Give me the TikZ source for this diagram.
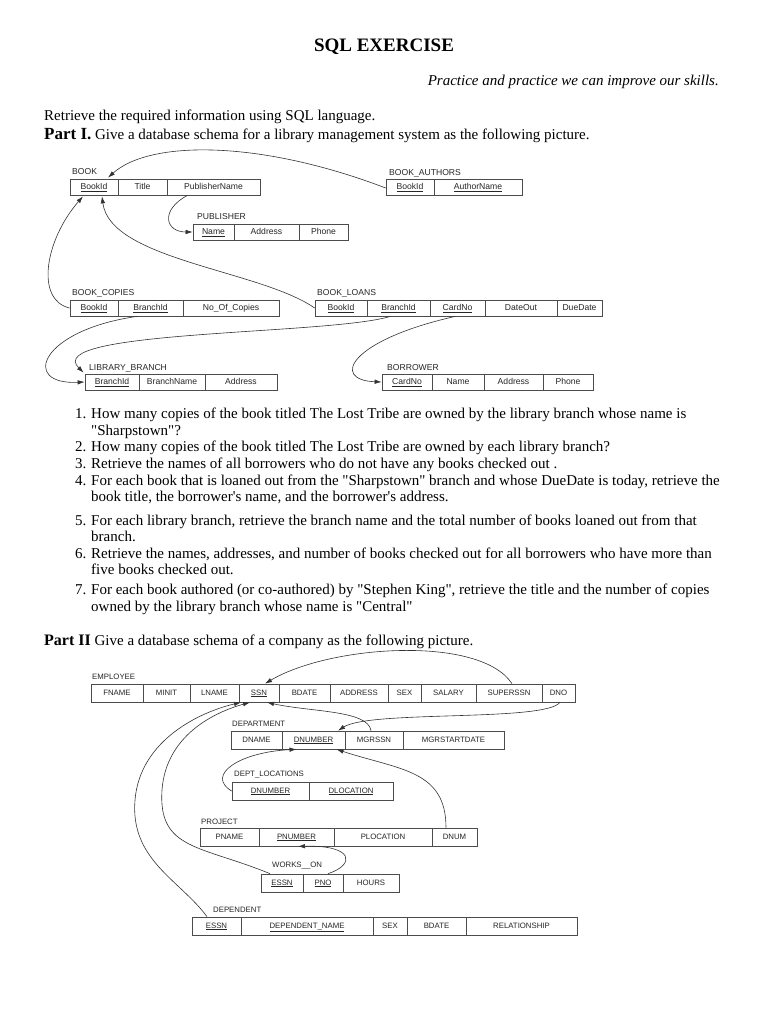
\documentclass[tikz,border=0pt]{standalone}
\usepackage{fontspec}
\setmainfont{Liberation Serif}
\setsansfont{Liberation Sans}
\usetikzlibrary{arrows.meta,calc}
\newcommand\qq{\textquotedbl}
\newcommand\ap{\textquotesingle}
\tikzset{
  body/.style={anchor=base west, inner sep=0pt, font=\fontsize{15}{16}\selectfont},
  cellA/.style={draw=black!70, line width=0.7pt, inner sep=0pt, minimum height=16pt, text height=6.3pt, text depth=1.8pt, font=\sffamily\fontsize{8.6}{9}\selectfont, text=black!85},
  cellB/.style={draw=black!70, line width=0.7pt, inner sep=0pt, minimum height=18pt, text height=5.8pt, text depth=1.8pt, font=\sffamily\fontsize{7.8}{8}\selectfont, text=black!85},
  lblA/.style={anchor=west, inner sep=0pt, font=\sffamily\fontsize{8.6}{9}\selectfont, text=black!85},
  lblB/.style={anchor=west, inner sep=0pt, font=\sffamily\fontsize{7.8}{8}\selectfont, text=black!85},
  conn/.style={draw=black!80, line width=0.6pt, -{Latex[length=7pt,width=4.5pt]}},
}
\begin{document}
\begin{tikzpicture}[x=1pt,y=-1pt]
\useasboundingbox (0,0) rectangle (768,1024);
\fill[white] (0,0) rectangle (768,1024);

% ---------- header text ----------
\node[anchor=base, inner sep=0pt, font=\fontsize{19}{20}\selectfont\bfseries] (title) at (384,52) {SQL EXERCISE};
\node[anchor=base east, inner sep=0pt, font=\fontsize{15}{16}\selectfont\itshape] (motto) at (719,86) {Practice and practice we can improve our skills.};
\node[body] (intro) at (44,121) {Retrieve the required information using SQL language.};
\node[body] (part1) at (44,140) {{\fontsize{17}{18}\selectfont\bfseries Part I.} Give a database schema for a library management system as the following picture.};

% ---------- Part I schema ----------
\node[lblA] (lbook) at (72,172) {BOOK};
\node[cellA, minimum width=48pt] (b-id) at (94,187) {\underline{BookId}};
\node[cellA, minimum width=49pt] (b-title) at (142.5,187) {Title};
\node[cellA, minimum width=93pt] (b-pub) at (213.5,187) {PublisherName};

\node[lblA] (lpub) at (197,217) {PUBLISHER};
\node[cellA, minimum width=41pt] (p-name) at (213.5,232) {\underline{Name}};
\node[cellA, minimum width=65pt] (p-addr) at (266.5,232) {Address};
\node[cellA, minimum width=49pt] (p-phone) at (323.5,232) {Phone};

\node[lblA] (lba) at (389,173) {BOOK\_AUTHORS};
\node[cellA, minimum width=48pt] (ba-id) at (410,187) {\underline{BookId}};
\node[cellA, minimum width=88pt] (ba-auth) at (478,187) {\underline{AuthorName}};

\node[lblA] (lbc) at (72,293) {BOOK\_COPIES};
\node[cellA, minimum width=48pt] (bc-id) at (94,308) {\underline{BookId}};
\node[cellA, minimum width=65pt] (bc-br) at (150.5,308) {\underline{BranchId}};
\node[cellA, minimum width=96pt] (bc-no) at (231,308) {No\_Of\_Copies};

\node[lblA] (lbl) at (317,293) {BOOK\_LOANS};
\node[cellA, minimum width=52pt] (bl-id) at (341,308) {\underline{BookId}};
\node[cellA, minimum width=63pt] (bl-br) at (398.5,308) {\underline{BranchId}};
\node[cellA, minimum width=55pt] (bl-card) at (457.5,308) {\underline{CardNo}};
\node[cellA, minimum width=72pt] (bl-out) at (521,308) {DateOut};
\node[cellA, minimum width=45pt] (bl-due) at (579.5,308) {DueDate};

\node[lblA] (llb) at (89,368) {LIBRARY\_BRANCH};
\node[cellA, minimum width=54pt] (lb-id) at (112,382) {\underline{BranchId}};
\node[cellA, minimum width=66pt] (lb-name) at (172,382) {BranchName};
\node[cellA, minimum width=72pt] (lb-addr) at (241,382) {Address};

\node[lblA] (lbo) at (387,368) {BORROWER};
\node[cellA, minimum width=50pt] (bo-card) at (407,382) {\underline{CardNo}};
\node[cellA, minimum width=52pt] (bo-name) at (458,382) {Name};
\node[cellA, minimum width=59pt] (bo-addr) at (513.5,382) {Address};
\node[cellA, minimum width=50pt] (bo-phone) at (568,382) {Phone};

% Part I connectors
\draw[conn] ($(ba-id.west)+(0,1)$) .. controls (260,140) and (150,140) .. ($(b-id.north)+(14,-1)$);
\draw[conn] ($(b-pub.south)+(-26,0)$) .. controls (160,210) and (165,232) .. (p-name.west);
\draw[conn] (bc-id.west) .. controls (35,300) and (45,240) .. ($(b-id.south)+(-11,1)$);
\draw[conn] (bl-id.west) .. controls (260,270) and (110,260) .. ($(b-id.south)+(8,1)$);
\draw[conn] ($(bc-br.south)+(-13,0)$) .. controls (40,330) and (20,385) .. (lb-id.west);
\draw[conn] ($(bl-br.south)+(-8,0)$) .. controls (330,335) and (40,330) .. ($(lb-id.north west)+(-1,-1)$);
\draw[conn] ($(bl-card.south)+(-2,0)$) .. controls (350,340) and (330,380) .. (bo-card.west);

% ---------- questions ----------
\node[body] (n1) at (75,418) {1.};
\node[body] (q1a) at (91,418) {How many copies of the book titled The Lost Tribe are owned by the library branch whose name is};
\node[body] (q1b) at (91,435) {\qq Sharpstown\qq?};
\node[body] (n2) at (75,451) {2.};
\node[body] (q2) at (91,451) {How many copies of the book titled The Lost Tribe are owned by each library branch?};
\node[body] (n3) at (75,468) {3.};
\node[body] (q3) at (91,468) {Retrieve the names of all borrowers who do not have any books checked out .};
\node[body] (n4) at (75,485) {4.};
\node[body] (q4a) at (91,485) {For each book that is loaned out from the \qq Sharpstown\qq{} branch and whose DueDate is today, retrieve the};
\node[body] (q4b) at (91,501) {book title, the borrower\ap s name, and the borrower\ap s address.};
\node[body] (n5) at (75,525) {5.};
\node[body] (q5a) at (91,525) {For each library branch, retrieve the branch name and the total number of books loaned out from that};
\node[body] (q5b) at (91,541) {branch.};
\node[body] (n6) at (75,558) {6.};
\node[body] (q6a) at (91,558) {Retrieve the names, addresses, and number of books checked out for all borrowers who have more than};
\node[body] (q6b) at (91,574) {five books checked out.};
\node[body] (n7) at (75,594) {7.};
\node[body] (q7a) at (91,594) {For each book authored (or co-authored) by \qq Stephen King\qq, retrieve the title and the number of copies};
\node[body] (q7b) at (91,611) {owned by the library branch whose name is \qq Central\qq};

\node[body] (part2) at (44,645) {{\fontsize{16}{17}\selectfont\bfseries Part II} Give a database schema of a company as the following picture.};

% ---------- Part II schema ----------
\node[lblB] (lemp) at (92,677) {EMPLOYEE};
\node[cellB, minimum width=52pt] (e-fn) at (117,693) {FNAME};
\node[cellB, minimum width=47pt] (e-mi) at (166.5,693) {MINIT};
\node[cellB, minimum width=49pt] (e-ln) at (214.5,693) {LNAME};
\node[cellB, minimum width=40pt] (e-ssn) at (259,693) {\underline{SSN}};
\node[cellB, minimum width=51pt] (e-bd) at (304.5,693) {BDATE};
\node[cellB, minimum width=58pt] (e-addr) at (359,693) {ADDRESS};
\node[cellB, minimum width=33pt] (e-sex) at (404.5,693) {SEX};
\node[cellB, minimum width=55pt] (e-sal) at (448.5,693) {SALARY};
\node[cellB, minimum width=66pt] (e-super) at (509,693) {SUPERSSN};
\node[cellB, minimum width=33pt] (e-dno) at (558.5,693) {DNO};

\node[lblB] (ldep) at (232,724) {DEPARTMENT};
\node[cellB, minimum width=51pt] (d-name) at (256.5,740) {DNAME};
\node[cellB, minimum width=63pt] (d-num) at (313.5,740) {\underline{DNUMBER}};
\node[cellB, minimum width=58pt] (d-mgr) at (374,740) {MGRSSN};
\node[cellB, minimum width=101pt] (d-start) at (453.5,740) {MGRSTARTDATE};

\node[lblB] (ldl) at (234,775) {DEPT\_LOCATIONS};
\node[cellB, minimum width=77pt] (dl-num) at (270.5,791) {\underline{DNUMBER}};
\node[cellB, minimum width=84pt] (dl-loc) at (351,791) {\underline{DLOCATION}};

\node[lblB] (lproj) at (201,822) {PROJECT};
\node[cellB, minimum width=59pt] (p-pname) at (229.5,837) {PNAME};
\node[cellB, minimum width=75pt] (p-num) at (296.5,837) {\underline{PNUMBER}};
\node[cellB, minimum width=98pt] (p-loc) at (383,837) {PLOCATION};
\node[cellB, minimum width=45pt] (p-dnum) at (454.5,837) {DNUM};

\node[lblB] (lwo) at (272,866) {WORKS\_\_ON};
\node[cellB, minimum width=42pt] (w-essn) at (282,883) {\underline{ESSN}};
\node[cellB, minimum width=40pt] (w-pno) at (323,883) {\underline{PNO}};
\node[cellB, minimum width=56pt] (w-hours) at (371,883) {HOURS};

\node[lblB] (ldp) at (213,910) {DEPENDENT};
\node[cellB, minimum width=49pt] (dp-essn) at (216.5,926) {\underline{ESSN}};
\node[cellB, minimum width=132pt] (dp-name) at (307,926) {\underline{DEPENDENT\_NAME}};
\node[cellB, minimum width=34pt] (dp-sex) at (390,926) {SEX};
\node[cellB, minimum width=59pt] (dp-bd) at (436.5,926) {BDATE};
\node[cellB, minimum width=111pt] (dp-rel) at (521.5,926) {RELATIONSHIP};

% Part II connectors
\draw[conn] ($(e-super.north)+(3,0)$) .. controls (480,635) and (330,645) .. ($(e-ssn.north)+(6,0)$);
\draw[conn] ($(e-dno.south)+(1.5,0)$) .. controls (545,722) and (370,710) .. ($(d-num.north)+(24.5,0)$);
\draw[conn] ($(d-mgr.north)+(-3,0)$) .. controls (368,710) and (310,712) .. ($(e-ssn.south)+(8,0)$);
\draw[conn] (dl-num.west) .. controls (205,775) and (240,752) .. ($(d-num.south)+(-17,0)$);
\draw[conn] ($(p-dnum.north)+(-8.5,0)$) .. controls (446,770) and (400,770) .. ($(d-num.south)+(23,0)$);
\draw[conn] ($(w-essn.north)+(-12,0)$) .. controls (200,845) and (158,850) .. (162,790) .. controls (166,735) and (215,712) .. ($(e-ssn.south)+(-9,0)$);
\draw[conn] ($(dp-essn.north)+(-9.5,0)$) .. controls (180,880) and (130,860) .. (135,800) .. controls (140,740) and (200,712) .. ($(e-ssn.south)+(-18,0)$);
\draw[conn] ($(w-pno.north)+(5,0)$) .. controls (355,865) and (355,845) .. ($(p-num.south)+(1.5,0)$);
\end{tikzpicture}
\end{document}
